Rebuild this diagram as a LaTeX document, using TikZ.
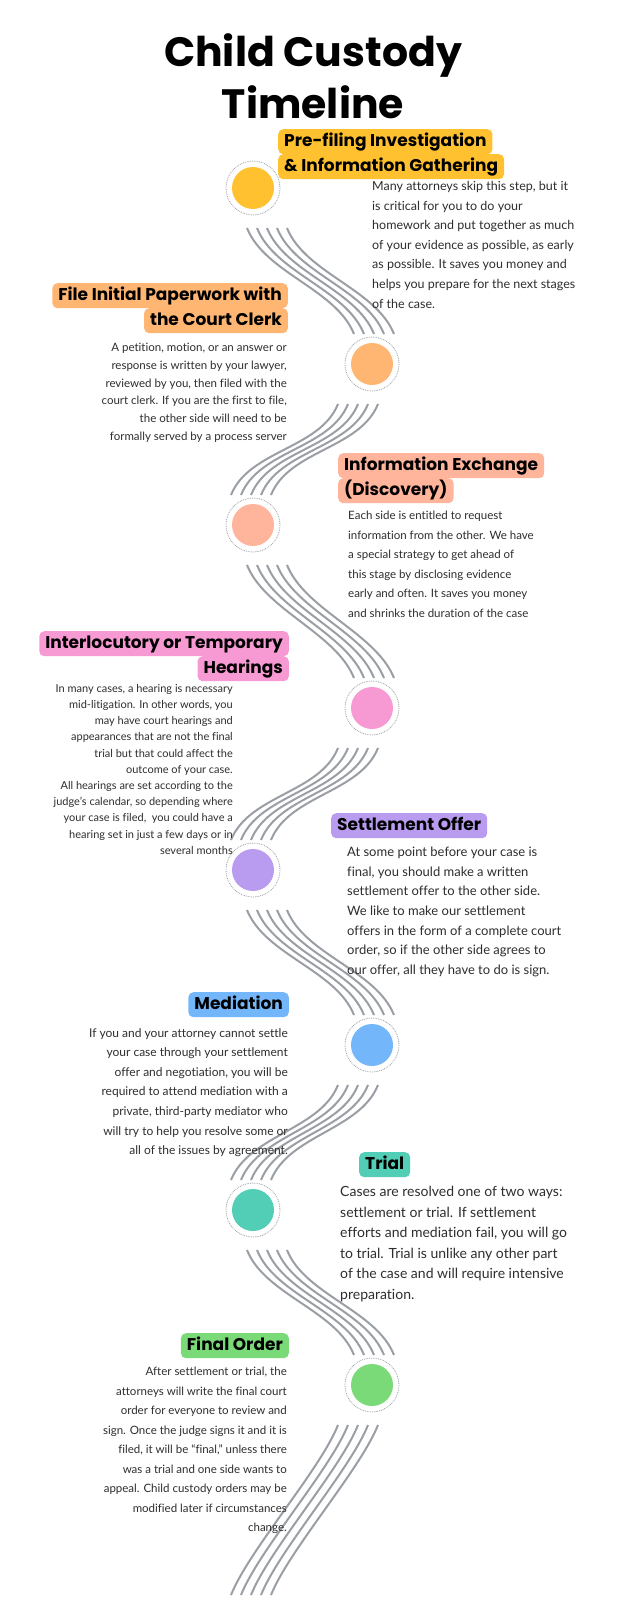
\documentclass[tikz,border=0pt]{standalone}
\usepackage{fontspec}
\setmainfont{Lato}[Ligatures=NoCommon]
\newfontfamily\hdfont{Poppins}
\usetikzlibrary{calc}
\definecolor{cA}{HTML}{FFC12F}
\definecolor{cB}{HTML}{FFB672}
\definecolor{cC}{HTML}{FFB49C}
\definecolor{cD}{HTML}{F79AD3}
\definecolor{cE}{HTML}{B99CF0}
\definecolor{cF}{HTML}{73B6FA}
\definecolor{cG}{HTML}{52CDB6}
\definecolor{cH}{HTML}{7ADA78}
\definecolor{wavec}{HTML}{9A9FA6}
\definecolor{txt}{HTML}{2E2E2E}
\tikzset{
 stop/.style={circle,minimum size=42pt,inner sep=0pt},
 ring/.style={draw=wavec,densely dotted,line width=0.8pt},
 wave/.style={draw=wavec,line width=2pt},
 hd/.style={rounded corners=5pt,inner xsep=6pt,inner ysep=4pt,text height=13pt,text depth=4pt,font=\hdfont\fontsize{17}{20}\selectfont\bfseries,text=black},
 bodyL/.style={anchor=north west,align=left,inner sep=0pt,text=txt},
 bodyR/.style={anchor=north east,align=right,inner sep=0pt,text=txt},
}
\begin{document}
\begin{tikzpicture}[x=1pt,y=-1pt]
\useasboundingbox[fill=white] (0,0) rectangle (640,1600);
\node[font=\hdfont\fontsize{41}{52}\selectfont\bfseries,align=center] (title) at (313,76) {Child Custody\\Timeline};
% stops
\foreach \n/\x/\y/\c in {n1/253/188/cA,n2/372/364/cB,n3/253/525/cC,n4/372/708/cD,n5/253/870/cE,n6/372/1045/cF,n7/253/1210/cG,n8/372/1385/cH}{
  \node[stop,fill=\c] (\n) at (\x,\y) {};
  \draw[ring] (\n.center) circle (27);
}
\coordinate (bot) at (253,1625);
% waves
\foreach \a/\b in {n1/n2,n3/n4,n5/n6,n7/n8}{
  \foreach \k in {-2,...,2}{
    \draw[wave] ($(\a)+(\k*10+14,40)$) .. controls ($(\a)+(\k*10+32,85)$) and ($(\b)+(\k*10-16,-75)$) .. ($(\b)+(\k*10+2,-30)$);
  }}
\foreach \a/\b in {n2/n3,n4/n5,n6/n7,n8/bot}{
  \foreach \k in {-2,...,2}{
    \draw[wave] ($(\a)+(\k*10-14,40)$) .. controls ($(\a)+(\k*10-32,85)$) and ($(\b)+(\k*10+16,-75)$) .. ($(\b)+(\k*10-2,-30)$);
  }}
% headings
\node[hd,fill=cA,anchor=north west] (h1a) at (278,129) {Pre-filing Investigation};
\node[hd,fill=cA,anchor=north west] (h1b) at (278,154) {\& Information Gathering};
\node[hd,fill=cB,anchor=north east] (h2a) at (288,283) {File Initial Paperwork with};
\node[hd,fill=cB,anchor=north east] (h2b) at (288,308) {the Court Clerk};
\node[hd,fill=cC,anchor=north west] (h3a) at (338,453) {Information Exchange};
\node[hd,fill=cC,anchor=north west] (h3b) at (338,478) {(Discovery)};
\node[hd,fill=cD,anchor=north east] (h4a) at (289,631) {Interlocutory or Temporary};
\node[hd,fill=cD,anchor=north east] (h4b) at (289,656) {Hearings};
\node[hd,fill=cE,anchor=north west] (h5) at (331,813) {Settlement Offer};
\node[hd,fill=cF,anchor=north east] (h6) at (289,992) {Mediation};
\node[hd,fill=cG,anchor=north west] (h7) at (359,1152) {Trial};
\node[hd,fill=cH,anchor=north east] (h8) at (289,1333) {Final Order};
% bodies
\node[bodyL,font=\fontsize{12.5}{19.6}\selectfont] (b1) at (372,181) {Many attorneys skip this step, but it\\is critical for you to do your\\homework and put together as much\\of your evidence as possible, as early\\as possible. It saves you money and\\helps you prepare for the next stages\\of the case.};
\node[bodyR,font=\fontsize{11.5}{17.8}\selectfont] (b2) at (287,343) {A petition, motion, or an answer or\\response is written by your lawyer,\\reviewed by you, then filed with the\\court clerk. If you are the first to file,\\the other side will need to be\\formally served by a process server};
\node[bodyL,font=\fontsize{11.5}{19.5}\selectfont] (b3) at (348,511) {Each side is entitled to request\\information from the other. We have\\a special strategy to get ahead of\\this stage by disclosing evidence\\early and often. It saves you money\\and shrinks the duration of the case};
\node[bodyR,font=\fontsize{11}{16.2}\selectfont] (b4) at (233,684) {In many cases, a hearing is necessary\\mid-litigation. In other words, you\\may have court hearings and\\appearances that are not the final\\trial but that could affect the\\outcome of your case.\\All hearings are set according to the\\judge's calendar, so depending where\\your case is filed,\ \ you could have a\\hearing set in just a few days or in\\several months};
\node[bodyL,font=\fontsize{13}{19.6}\selectfont] (b5) at (347,847) {At some point before your case is\\final, you should make a written\\settlement offer to the other side.\\We like to make our settlement\\offers in the form of a complete court\\order, so if the other side agrees to\\our offer, all they have to do is sign.};
\node[bodyR,font=\fontsize{12}{19.6}\selectfont] (b6) at (288,1028) {If you and your attorney cannot settle\\your case through your settlement\\offer and negotiation, you will be\\required to attend mediation with a\\private, third-party mediator who\\will try to help you resolve some or\\all of the issues by agreement.};
\node[bodyL,font=\fontsize{14}{20.6}\selectfont] (b7) at (340,1186) {Cases are resolved one of two ways:\\settlement or trial. If settlement\\efforts and mediation fail, you will go\\to trial. Trial is unlike any other part\\of the case and will require intensive\\preparation.};
\node[bodyR,font=\fontsize{11.5}{19.5}\selectfont] (b8) at (287,1367) {After settlement or trial, the\\attorneys will write the final court\\order for everyone to review and\\sign. Once the judge signs it and it is\\filed, it will be ``final,'' unless there\\was a trial and one side wants to\\appeal. Child custody orders may be\\modified later if circumstances\\change.};
\end{tikzpicture}
\end{document}
